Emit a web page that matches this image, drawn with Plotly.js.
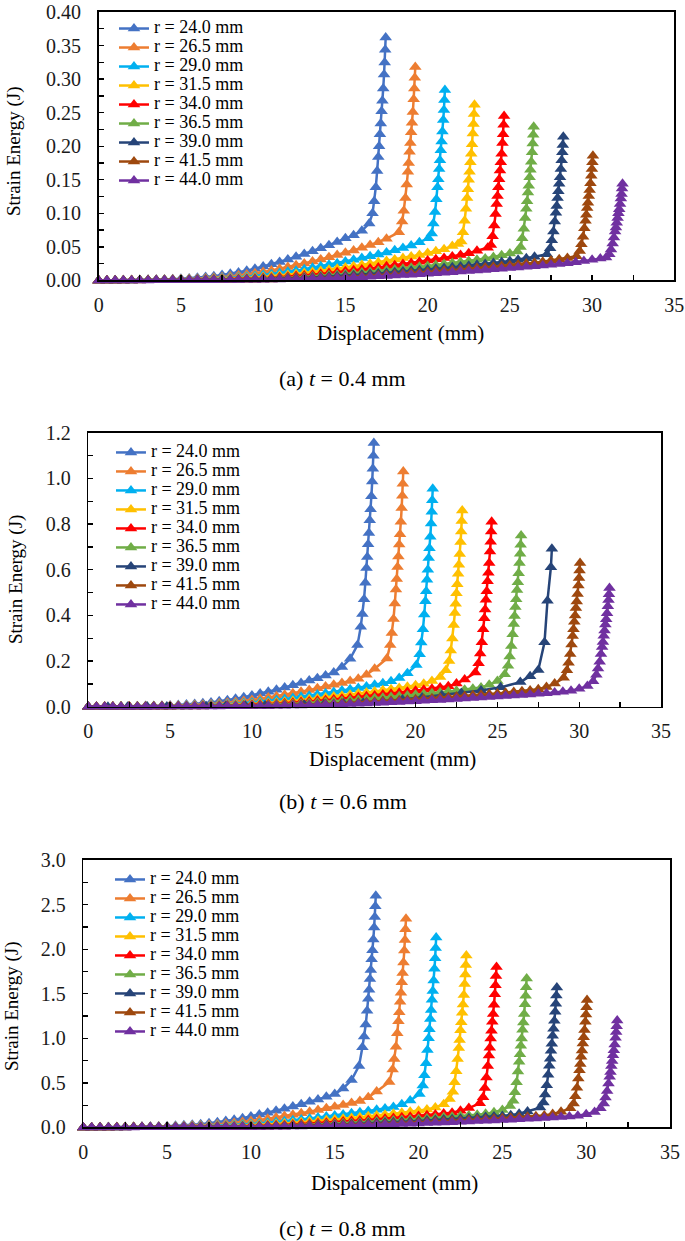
<!DOCTYPE html>
<html>
<head>
<meta charset="utf-8">
<script src="https://cdn.plot.ly/plotly-3.0.1.min.js"></script>
<style>
  html, body { margin: 0; padding: 0; background: #fff; }
  #chart { width: 685px; height: 1241px; }
</style>
</head>
<body>
<div id="chart"></div>
<script>
// radius of each curve and the Excel colours used for them
const radii = ['24.0', '26.5', '29.0', '31.5', '34.0', '36.5', '39.0', '41.5', '44.0'];
const colors = ['#4472C4', '#ED7D31', '#00B0F0', '#FFC000', '#FF0000', '#70AD47', '#264478', '#9E480E', '#7030A0'];

// displacement steps (mm) of the slow part of every curve
const stepGrid = [0, 0.5, 1, 1.5, 2, 2.5, 3, 3.5, 4, 4.5, 5, 5.5, 6, 6.5, 7, 7.5, 8, 8.5, 9, 9.5,
  10, 10.5, 11, 11.5, 12, 12.5, 13, 13.5, 14, 14.5, 15, 15.5, 16, 16.5, 17, 17.5, 18, 18.5, 19, 19.5,
  20, 20.5, 21, 21.5, 22, 22.5, 23, 23.5, 24, 24.5, 25, 25.5, 26, 26.5, 27, 27.5, 28, 28.5, 29, 29.5,
  30, 30.5, 31];

// displacement (mm) of the steep end of each curve, same for all thicknesses
const endX24 = [16.45, 16.65, 16.75, 16.85, 16.93, 17.0, 17.05, 17.1, 17.15, 17.2, 17.25, 17.3, 17.35, 17.39, 17.42, 17.45];
const endX265 = [18.25, 18.45, 18.55, 18.65, 18.73, 18.8, 18.85, 18.9, 18.95, 19.0, 19.05, 19.1, 19.15, 19.19, 19.22, 19.25];
const endX29 = [20.05, 20.25, 20.35, 20.45, 20.53, 20.6, 20.65, 20.7, 20.75, 20.8, 20.85, 20.9, 20.95, 20.99, 21.02, 21.05];
const endX315 = [21.85, 22.05, 22.15, 22.25, 22.33, 22.4, 22.45, 22.5, 22.55, 22.6, 22.65, 22.7, 22.75, 22.79, 22.82, 22.85];
const endX34 = [23.65, 23.85, 23.95, 24.05, 24.13, 24.2, 24.25, 24.3, 24.35, 24.4, 24.45, 24.5, 24.55, 24.59, 24.62, 24.65];
const endX365 = [25.45, 25.65, 25.75, 25.85, 25.93, 26.0, 26.05, 26.1, 26.15, 26.2, 26.25, 26.3, 26.35, 26.39, 26.42, 26.45];
const endX39 = [27.25, 27.45, 27.55, 27.65, 27.73, 27.8, 27.85, 27.9, 27.95, 28.0, 28.05, 28.1, 28.15, 28.19, 28.22, 28.25];
const endX415 = [29.05, 29.25, 29.35, 29.45, 29.53, 29.6, 29.65, 29.7, 29.75, 29.8, 29.85, 29.9, 29.95, 29.99, 30.02, 30.05];
const endX44 = [30.85, 31.05, 31.15, 31.25, 31.33, 31.4, 31.45, 31.5, 31.55, 31.6, 31.65, 31.7, 31.75, 31.79, 31.82, 31.85];

// (a) t = 0.4 mm, strain energy (J)
const ya24 = [0, 0.0001, 0.0002, 0.0003, 0.0005, 0.0007, 0.0009, 0.0012, 0.0015, 0.0019, 0.0024, 0.0031, 0.0039, 0.005, 0.0062, 0.008, 0.0099,
  0.012, 0.0146, 0.0175, 0.0207, 0.0242, 0.0276, 0.0314, 0.0353, 0.0395, 0.0437, 0.0481, 0.0525, 0.0575, 0.0628, 0.0673, 0.074, 0.085,
  0.1, 0.118, 0.139, 0.163, 0.184, 0.2, 0.218, 0.234, 0.252, 0.268, 0.286, 0.307, 0.325, 0.344, 0.362];
const ya265 = [0, 0.0001, 0.0001, 0.0003, 0.0004, 0.0005, 0.0007, 0.0009, 0.0011, 0.0013, 0.0016, 0.0021, 0.0026, 0.0032, 0.004, 0.0048, 0.006, 0.0074,
  0.0089, 0.0107, 0.0126, 0.0148, 0.0173, 0.02, 0.0227, 0.0254, 0.0284, 0.0314, 0.0347, 0.038, 0.0413, 0.0448, 0.0486, 0.0527, 0.0571, 0.0622, 0.0717,
  0.088, 0.104, 0.123, 0.143, 0.162, 0.175, 0.192, 0.205, 0.221, 0.235, 0.251, 0.27, 0.286, 0.302, 0.318];
const ya29 = [0, 0.0001, 0.0001, 0.0002, 0.0003, 0.0004, 0.0005, 0.0006, 0.0008, 0.001, 0.0012, 0.0014, 0.0018, 0.0021, 0.0026, 0.0032, 0.0038, 0.0046, 0.0057, 0.0068,
  0.0081, 0.0094, 0.0111, 0.0129, 0.0146, 0.0168, 0.0189, 0.0212, 0.0234, 0.0257, 0.0282, 0.0308, 0.0334, 0.036, 0.0387, 0.0418, 0.045, 0.0484, 0.0521, 0.057, 0.0628,
  0.07, 0.085, 0.102, 0.121, 0.139, 0.151, 0.166, 0.179, 0.194, 0.207, 0.222, 0.239, 0.254, 0.269, 0.284];
const ya315 = [0, 0, 0.0001, 0.0002, 0.0002, 0.0003, 0.0004, 0.0005, 0.0006, 0.0007, 0.0009, 0.001, 0.0012, 0.0015, 0.0018, 0.0021, 0.0025, 0.0031, 0.0036, 0.0044,
  0.0052, 0.0062, 0.0072, 0.0083, 0.0096, 0.011, 0.0126, 0.0141, 0.0158, 0.0175, 0.0192, 0.0211, 0.0229, 0.025, 0.027, 0.0291, 0.0311, 0.0333, 0.0357, 0.0381,
  0.0409, 0.0436, 0.0466, 0.0515, 0.0544,
  0.058, 0.072, 0.089, 0.107, 0.123, 0.136, 0.15, 0.162, 0.176, 0.189, 0.203, 0.219, 0.233, 0.248, 0.262];
const ya34 = [0, 0, 0.0001, 0.0001, 0.0002, 0.0002, 0.0003, 0.0004, 0.0005, 0.0006, 0.0007, 0.0008, 0.0009, 0.0011, 0.0013, 0.0015, 0.0019, 0.0022, 0.0026, 0.003,
  0.0036, 0.0042, 0.0049, 0.0057, 0.0066, 0.0075, 0.0086, 0.0098, 0.011, 0.0124, 0.0137, 0.0151, 0.0165, 0.018, 0.0195, 0.0211, 0.0227, 0.0244, 0.0261, 0.0278,
  0.0296, 0.0316, 0.0335, 0.0358, 0.038, 0.0406, 0.0442, 0.0489,
  0.053, 0.066, 0.082, 0.099, 0.114, 0.126, 0.139, 0.151, 0.164, 0.176, 0.189, 0.205, 0.218, 0.232, 0.245];
const ya365 = [0, 0, 0.0001, 0.0001, 0.0001, 0.0002, 0.0002, 0.0003, 0.0004, 0.0004, 0.0005, 0.0006, 0.0007, 0.0008, 0.001, 0.0011, 0.0013, 0.0016, 0.0018, 0.0021,
  0.0025, 0.0029, 0.0034, 0.004, 0.0045, 0.0052, 0.0059, 0.0067, 0.0076, 0.0085, 0.0096, 0.0106, 0.0117, 0.0128, 0.014, 0.0151, 0.0164, 0.0176, 0.0189, 0.0203,
  0.0216, 0.023, 0.0244, 0.0259, 0.0274, 0.029, 0.0308, 0.0327, 0.0348, 0.0374, 0.0401, 0.043,
  0.05, 0.063, 0.077, 0.093, 0.107, 0.118, 0.131, 0.141, 0.154, 0.165, 0.177, 0.191, 0.204, 0.217, 0.229];
const ya39 = [0, 0, 0.0001, 0.0001, 0.0001, 0.0002, 0.0002, 0.0002, 0.0003, 0.0004, 0.0004, 0.0005, 0.0006, 0.0007, 0.0007, 0.0009, 0.001, 0.0012, 0.0014, 0.0016,
  0.0018, 0.0021, 0.0024, 0.0028, 0.0033, 0.0038, 0.0043, 0.0049, 0.0054, 0.0062, 0.0069, 0.0077, 0.0084, 0.0095, 0.0104, 0.0113, 0.0123, 0.0132, 0.0143, 0.0153,
  0.0164, 0.0175, 0.0187, 0.0198, 0.0209, 0.0221, 0.0234, 0.0247, 0.0261, 0.0274, 0.0291, 0.0308, 0.033, 0.0352, 0.039,
  0.048, 0.06, 0.073, 0.088, 0.101, 0.111, 0.123, 0.133, 0.144, 0.154, 0.166, 0.179, 0.191, 0.202, 0.214];
const ya415 = [0, 0, 0, 0.0001, 0.0001, 0.0001, 0.0002, 0.0002, 0.0003, 0.0003, 0.0003, 0.0004, 0.0005, 0.0005, 0.0006, 0.0007, 0.0008, 0.0009, 0.0011, 0.0012,
  0.0014, 0.0016, 0.0018, 0.0021, 0.0024, 0.0028, 0.0032, 0.0036, 0.0041, 0.0046, 0.0051, 0.0057, 0.0064, 0.0071, 0.0078, 0.0086, 0.0094, 0.0101, 0.011, 0.0118,
  0.0127, 0.0136, 0.0145, 0.0154, 0.0164, 0.0174, 0.0184, 0.0194, 0.0204, 0.0215, 0.0227, 0.0238, 0.0251, 0.0265, 0.0278, 0.0296, 0.0316, 0.0335, 0.0361,
  0.044, 0.054, 0.065, 0.078, 0.089, 0.098, 0.108, 0.116, 0.126, 0.135, 0.145, 0.156, 0.166, 0.176, 0.186];
const ya44 = [0, 0, 0, 0.0001, 0.0001, 0.0001, 0.0001, 0.0002, 0.0002, 0.0003, 0.0003, 0.0003, 0.0004, 0.0005, 0.0005, 0.0006, 0.0007, 0.0008, 0.0009, 0.001,
  0.0011, 0.0013, 0.0015, 0.0017, 0.0019, 0.0022, 0.0025, 0.0028, 0.0032, 0.0036, 0.004, 0.0044, 0.0049, 0.0055, 0.0061, 0.0066, 0.0073, 0.008, 0.0087, 0.0094,
  0.0101, 0.0108, 0.0116, 0.0124, 0.0132, 0.014, 0.0149, 0.0157, 0.0166, 0.0175, 0.0184, 0.0193, 0.0203, 0.0213, 0.0223, 0.0235, 0.0246, 0.0258, 0.0273, 0.029,
  0.0307, 0.0327, 0.0342,
  0.039, 0.046, 0.055, 0.064, 0.073, 0.079, 0.086, 0.093, 0.1, 0.106, 0.114, 0.122, 0.129, 0.137, 0.144];

// (b) t = 0.6 mm
const yb24 = [0, 0.0002, 0.0005, 0.0008, 0.0012, 0.0017, 0.0022, 0.0028, 0.0036, 0.0046, 0.0058, 0.0074, 0.0094, 0.0118, 0.0148, 0.019, 0.0236,
  0.0286, 0.0348, 0.0416, 0.0494, 0.0576, 0.0658, 0.0748, 0.084, 0.094, 0.104, 0.115, 0.125, 0.137, 0.15, 0.174, 0.21, 0.27,
  0.35, 0.406, 0.471, 0.543, 0.608, 0.656, 0.712, 0.761, 0.817, 0.865, 0.922, 0.986, 1.042, 1.099, 1.155];
const yb265 = [0, 0.0002, 0.0003, 0.0006, 0.0009, 0.0012, 0.0016, 0.002, 0.0025, 0.0031, 0.0038, 0.0048, 0.0059, 0.0074, 0.0092, 0.0112, 0.014, 0.0172,
  0.0208, 0.0248, 0.0294, 0.0345, 0.0403, 0.0464, 0.0528, 0.0591, 0.066, 0.0729, 0.0807, 0.0883, 0.096, 0.1041, 0.113, 0.1224, 0.1401, 0.1667, 0.211,
  0.27, 0.323, 0.384, 0.452, 0.513, 0.559, 0.612, 0.658, 0.711, 0.756, 0.81, 0.87, 0.924, 0.977, 1.03];
const yb29 = [0, 0.0001, 0.0003, 0.0005, 0.0007, 0.0009, 0.0012, 0.0015, 0.0018, 0.0022, 0.0027, 0.0032, 0.0041, 0.0049, 0.006, 0.0073, 0.0088, 0.0106, 0.013, 0.0155,
  0.0185, 0.0216, 0.0255, 0.0295, 0.0335, 0.0386, 0.0434, 0.0486, 0.0538, 0.0591, 0.0648, 0.0707, 0.0767, 0.0826, 0.0889, 0.096, 0.1032, 0.1112, 0.1255, 0.1468, 0.1825,
  0.23, 0.281, 0.339, 0.404, 0.462, 0.506, 0.556, 0.6, 0.651, 0.694, 0.745, 0.803, 0.854, 0.904, 0.955];
const yb315 = [0, 0.0001, 0.0002, 0.0004, 0.0005, 0.0007, 0.0009, 0.0011, 0.0014, 0.0016, 0.002, 0.0024, 0.0029, 0.0034, 0.0041, 0.005, 0.0059, 0.007, 0.0084, 0.0102,
  0.0121, 0.0142, 0.0166, 0.0191, 0.0222, 0.0254, 0.029, 0.0327, 0.0365, 0.0404, 0.0444, 0.0486, 0.0528, 0.0576, 0.0623, 0.0671, 0.0718, 0.0768, 0.0823, 0.0878,
  0.0943, 0.1006, 0.1125, 0.1304, 0.16,
  0.2, 0.246, 0.299, 0.358, 0.411, 0.451, 0.497, 0.537, 0.583, 0.622, 0.669, 0.721, 0.768, 0.814, 0.86];
const yb34 = [0, 0.0001, 0.0002, 0.0003, 0.0004, 0.0006, 0.0007, 0.0009, 0.0011, 0.0013, 0.0016, 0.0019, 0.0022, 0.0026, 0.0031, 0.0036, 0.0044, 0.0051, 0.006, 0.0071,
  0.0083, 0.01, 0.0116, 0.0134, 0.0155, 0.0177, 0.0203, 0.0229, 0.0259, 0.029, 0.0321, 0.0355, 0.0387, 0.0422, 0.0457, 0.0494, 0.0534, 0.0573, 0.0613, 0.0652,
  0.0696, 0.0741, 0.0787, 0.084, 0.0893, 0.1014, 0.1195, 0.1497,
  0.19, 0.233, 0.283, 0.339, 0.388, 0.426, 0.469, 0.506, 0.55, 0.587, 0.63, 0.68, 0.723, 0.767, 0.81];
const yb365 = [0, 0.0001, 0.0001, 0.0002, 0.0003, 0.0005, 0.0006, 0.0007, 0.0009, 0.0011, 0.0013, 0.0015, 0.0017, 0.002, 0.0024, 0.0028, 0.0032, 0.0038, 0.0044, 0.0052,
  0.006, 0.0069, 0.0082, 0.0096, 0.011, 0.0126, 0.0143, 0.0162, 0.0184, 0.0206, 0.0232, 0.0257, 0.0284, 0.0311, 0.0339, 0.0367, 0.0397, 0.0426, 0.0459, 0.0492,
  0.0525, 0.0558, 0.0591, 0.0628, 0.0665, 0.0704, 0.0748, 0.0792, 0.0845, 0.096, 0.1132, 0.1418,
  0.18, 0.22, 0.266, 0.317, 0.362, 0.397, 0.437, 0.471, 0.511, 0.545, 0.585, 0.63, 0.67, 0.71, 0.75];
// r = 39.0 mm at t = 0.6 mm was saved with far fewer points
const xb39 = [0, 1.2, 2.4, 3.6, 4.8, 6.0, 7.2, 8.4, 9.6, 10.8, 12.0, 13.2, 14.4, 15.6, 16.8, 18.0, 19.2, 20.4, 21.6, 22.8,
  24.0, 25.2, 26.4, 27.0, 27.5, 27.88, 28.06, 28.27, 28.33];
const yb39 = [0, 0.0001, 0.0003, 0.0006, 0.001, 0.0015, 0.002, 0.003, 0.004, 0.005, 0.007, 0.009, 0.011, 0.014, 0.018, 0.024, 0.032, 0.041, 0.05, 0.06,
  0.071, 0.085, 0.108, 0.134, 0.161, 0.282, 0.464, 0.611, 0.692];
const yb415 = [0, 0.0001, 0.0001, 0.0002, 0.0003, 0.0003, 0.0004, 0.0005, 0.0006, 0.0008, 0.0009, 0.001, 0.0012, 0.0014, 0.0016, 0.0018, 0.0021, 0.0024, 0.0027, 0.0032,
  0.0037, 0.0041, 0.0048, 0.0055, 0.0062, 0.0072, 0.0083, 0.0093, 0.0106, 0.0119, 0.0131, 0.0148, 0.0165, 0.0182, 0.0201, 0.0221, 0.0241, 0.0261, 0.0284, 0.0304,
  0.0327, 0.035, 0.0372, 0.0398, 0.0423, 0.0449, 0.0474, 0.0499, 0.0525, 0.0554, 0.0584, 0.0614, 0.0647, 0.0681, 0.0715, 0.0763, 0.0863, 0.1014, 0.1265,
  0.16, 0.193, 0.231, 0.273, 0.31, 0.339, 0.372, 0.4, 0.433, 0.461, 0.494, 0.531, 0.564, 0.597, 0.63];
const yb44 = [0, 0, 0.0001, 0.0001, 0.0002, 0.0003, 0.0004, 0.0004, 0.0005, 0.0006, 0.0007, 0.0008, 0.001, 0.0011, 0.0013, 0.0014, 0.0016, 0.0019, 0.0021, 0.0024,
  0.0028, 0.0032, 0.0036, 0.0041, 0.0046, 0.0052, 0.0059, 0.0068, 0.0077, 0.0086, 0.0097, 0.0107, 0.0118, 0.0133, 0.0147, 0.0161, 0.0177, 0.0194, 0.021, 0.0227,
  0.0244, 0.0261, 0.0281, 0.03, 0.0319, 0.0339, 0.036, 0.0381, 0.0402, 0.0423, 0.0445, 0.0466, 0.0491, 0.0515, 0.054, 0.0568, 0.0596, 0.0624, 0.0661, 0.0701,
  0.0785, 0.0911, 0.112,
  0.14, 0.167, 0.197, 0.231, 0.262, 0.284, 0.311, 0.334, 0.36, 0.383, 0.41, 0.44, 0.467, 0.493, 0.52];

// (c) t = 0.8 mm
const yc24 = [0, 0.0005, 0.0012, 0.002, 0.003, 0.0043, 0.0055, 0.007, 0.009, 0.0115, 0.0145, 0.0185, 0.0235, 0.0295, 0.037, 0.0475, 0.059,
  0.0715, 0.087, 0.104, 0.124, 0.144, 0.165, 0.187, 0.21, 0.235, 0.26, 0.287, 0.313, 0.343, 0.374, 0.437, 0.532, 0.69,
  0.9, 1.019, 1.155, 1.308, 1.444, 1.546, 1.665, 1.767, 1.886, 1.988, 2.107, 2.243, 2.362, 2.481, 2.6];
const yc265 = [0, 0.0004, 0.0008, 0.0015, 0.0021, 0.003, 0.0038, 0.0048, 0.006, 0.0076, 0.0092, 0.0116, 0.0144, 0.018, 0.0224, 0.0272, 0.034, 0.0416,
  0.0504, 0.06, 0.0712, 0.0836, 0.0976, 0.1124, 0.128, 0.1432, 0.16, 0.1768, 0.1956, 0.214, 0.2328, 0.2524, 0.274, 0.2968, 0.339, 0.403, 0.509,
  0.65, 0.768, 0.904, 1.056, 1.191, 1.292, 1.411, 1.512, 1.63, 1.732, 1.85, 1.985, 2.103, 2.222, 2.34];
const yc29 = [0, 0.0003, 0.0006, 0.001, 0.0014, 0.0019, 0.0024, 0.0031, 0.0038, 0.0046, 0.0055, 0.0067, 0.0084, 0.0102, 0.0125, 0.0151, 0.0183, 0.022, 0.027, 0.0322,
  0.0383, 0.0447, 0.0528, 0.0612, 0.0693, 0.08, 0.0899, 0.1006, 0.1114, 0.1224, 0.1343, 0.1465, 0.1589, 0.1711, 0.1842, 0.1989, 0.2137, 0.2303, 0.259, 0.302, 0.374,
  0.47, 0.586, 0.719, 0.868, 1.001, 1.101, 1.217, 1.317, 1.433, 1.532, 1.649, 1.781, 1.898, 2.014, 2.13];
const yc315 = [0, 0.0002, 0.0004, 0.0007, 0.001, 0.0014, 0.0018, 0.0022, 0.0028, 0.0033, 0.004, 0.0047, 0.0057, 0.0069, 0.0082, 0.0099, 0.0118, 0.0141, 0.0168, 0.0203,
  0.0242, 0.0285, 0.0332, 0.0382, 0.0444, 0.0507, 0.058, 0.0653, 0.073, 0.0809, 0.0888, 0.0972, 0.1056, 0.1152, 0.1246, 0.1342, 0.1435, 0.1536, 0.1646, 0.1757,
  0.1886, 0.2011, 0.225, 0.261, 0.32,
  0.4, 0.507, 0.63, 0.767, 0.89, 0.981, 1.089, 1.18, 1.287, 1.379, 1.486, 1.609, 1.716, 1.823, 1.93];
const yc34 = [0, 0.0002, 0.0003, 0.0005, 0.0008, 0.001, 0.0013, 0.0017, 0.002, 0.0024, 0.0029, 0.0034, 0.004, 0.0048, 0.0057, 0.0067, 0.0081, 0.0094, 0.0111, 0.0132,
  0.0154, 0.0185, 0.0214, 0.0248, 0.0286, 0.0327, 0.0376, 0.0424, 0.048, 0.0537, 0.0595, 0.0658, 0.0717, 0.0782, 0.0847, 0.0916, 0.0989, 0.1062, 0.1135, 0.1208,
  0.1288, 0.1372, 0.1458, 0.1556, 0.1654, 0.1864, 0.2178, 0.2702,
  0.34, 0.442, 0.559, 0.69, 0.807, 0.895, 0.997, 1.085, 1.187, 1.274, 1.377, 1.493, 1.596, 1.698, 1.8];
const yc365 = [0, 0.0001, 0.0003, 0.0004, 0.0006, 0.0008, 0.001, 0.0013, 0.0016, 0.0019, 0.0023, 0.0026, 0.0031, 0.0036, 0.0043, 0.005, 0.0058, 0.0069, 0.008, 0.0094,
  0.0109, 0.0125, 0.0148, 0.0173, 0.0198, 0.0228, 0.0258, 0.0293, 0.0333, 0.0372, 0.0418, 0.0464, 0.0512, 0.0561, 0.0611, 0.0663, 0.0715, 0.0768, 0.0828, 0.0887,
  0.0947, 0.1006, 0.1066, 0.1132, 0.12, 0.1271, 0.1349, 0.143, 0.1524, 0.1701, 0.1967, 0.241,
  0.3, 0.396, 0.506, 0.629, 0.738, 0.821, 0.917, 0.999, 1.095, 1.177, 1.273, 1.382, 1.478, 1.574, 1.67];
const yc39 = [0, 0.0001, 0.0002, 0.0004, 0.0005, 0.0007, 0.0009, 0.0011, 0.0013, 0.0016, 0.0019, 0.0022, 0.0025, 0.0029, 0.0033, 0.0039, 0.0045, 0.0052, 0.0061, 0.0071,
  0.0081, 0.0095, 0.0109, 0.0125, 0.0145, 0.0167, 0.0191, 0.0216, 0.0242, 0.0274, 0.0307, 0.0341, 0.0374, 0.042, 0.046, 0.0501, 0.0546, 0.0588, 0.0634, 0.0679,
  0.0727, 0.0778, 0.0829, 0.088, 0.0931, 0.0982, 0.104, 0.1099, 0.1159, 0.1218, 0.1294, 0.1367, 0.1539, 0.1797, 0.2227,
  0.28, 0.37, 0.474, 0.59, 0.693, 0.77, 0.861, 0.938, 1.028, 1.106, 1.196, 1.299, 1.389, 1.48, 1.57];
const yc415 = [0, 0.0001, 0.0002, 0.0003, 0.0005, 0.0006, 0.0008, 0.0009, 0.0011, 0.0014, 0.0016, 0.0018, 0.0021, 0.0024, 0.0028, 0.0031, 0.0037, 0.0042, 0.0048, 0.0056,
  0.0065, 0.0073, 0.0084, 0.0097, 0.0109, 0.0127, 0.0146, 0.0164, 0.0186, 0.021, 0.0231, 0.0261, 0.0291, 0.0321, 0.0356, 0.0391, 0.0425, 0.0461, 0.0501, 0.0537,
  0.0578, 0.0617, 0.0657, 0.0702, 0.0747, 0.0792, 0.0837, 0.0881, 0.0927, 0.0978, 0.1031, 0.1083, 0.1142, 0.1202, 0.1262, 0.1347, 0.151, 0.1753, 0.2159,
  0.27, 0.351, 0.444, 0.548, 0.641, 0.711, 0.792, 0.862, 0.943, 1.012, 1.094, 1.186, 1.268, 1.349, 1.43];
const yc44 = [0, 0.0001, 0.0002, 0.0003, 0.0004, 0.0005, 0.0007, 0.0008, 0.001, 0.0012, 0.0014, 0.0016, 0.0018, 0.002, 0.0024, 0.0027, 0.003, 0.0035, 0.0039, 0.0044,
  0.0052, 0.0059, 0.0067, 0.0076, 0.0087, 0.0097, 0.0111, 0.0127, 0.0143, 0.0161, 0.018, 0.02, 0.0221, 0.0247, 0.0274, 0.03, 0.0331, 0.0361, 0.0392, 0.0424,
  0.0456, 0.0488, 0.0525, 0.056, 0.0595, 0.0632, 0.0672, 0.0711, 0.0751, 0.079, 0.083, 0.087, 0.0916, 0.0962, 0.1008, 0.106, 0.1112, 0.1166, 0.1234, 0.1309,
  0.1476, 0.1726, 0.2144,
  0.27, 0.335, 0.41, 0.493, 0.568, 0.623, 0.689, 0.744, 0.809, 0.865, 0.93, 1.005, 1.07, 1.135, 1.2];

const serif = 'Liberation Serif';
const endX = [endX24, endX265, endX29, endX315, endX34, endX365, endX39, endX415, endX44];

const panels = [
  { ys: [ya24, ya265, ya29, ya315, ya34, ya365, ya39, ya415, ya44], xa: 'x', ya: 'y', legend: 'legend' },
  { ys: [yb24, yb265, yb29, yb315, yb34, yb365, yb39, yb415, yb44], xa: 'x2', ya: 'y2', legend: 'legend2' },
  { ys: [yc24, yc265, yc29, yc315, yc34, yc365, yc39, yc415, yc44], xa: 'x3', ya: 'y3', legend: 'legend3' },
];

// slow part sits on the 0.5 mm grid, the steep end has its own x values
function xFor(i, y) {
  const n = y.length - endX[i].length;
  return stepGrid.slice(0, n).concat(endX[i]);
}

const traces = [];
panels.forEach((p, k) => {
  p.ys.forEach((y, i) => {
    const x = (k === 1 && i === 6) ? xb39 : xFor(i, y);
    traces.push({
      x: x, y: y,
      xaxis: p.xa, yaxis: p.ya, legend: p.legend,
      type: 'scatter', mode: 'lines+markers',
      name: '<span style="font-size:18px">r = ' + radii[i] + ' mm</span>',
      line: { color: colors[i], width: 2.5 },
      marker: { symbol: 'triangle-up', size: 11, color: colors[i] },
      cliponaxis: false,
    });
  });
});

function xAxis(domain, anchor) {
  return {
    domain: domain, anchor: anchor, range: [0, 35], tick0: 0, dtick: 5,
    ticks: 'inside', ticklen: 5, tickwidth: 1.3, tickcolor: '#000',
    minor: { dtick: 2.5, ticks: 'inside', ticklen: 5, tickwidth: 1.3, tickcolor: '#000' },
    showline: true, linewidth: 1.6, linecolor: '#000', mirror: true,
    showgrid: false, zeroline: false,
    tickfont: { family: serif, size: 20, color: '#1a1a1a' },
    ticklabelstandoff: 6, ticklabeloverflow: 'allow',
  };
}

function yAxis(domain, anchor, top, step, fmt) {
  return {
    domain: domain, anchor: anchor, range: [0, top], tick0: 0, dtick: step, tickformat: fmt,
    ticks: 'inside', ticklen: 5, tickwidth: 1.3, tickcolor: '#000',
    minor: { dtick: step / 2, ticks: 'inside', ticklen: 5, tickwidth: 1.3, tickcolor: '#000' },
    showline: true, linewidth: 1.6, linecolor: '#000', mirror: true,
    showgrid: false, zeroline: false,
    tickfont: { family: serif, size: 20, color: '#1a1a1a' },
    ticklabelstandoff: 12, ticklabeloverflow: 'allow',
  };
}

function legendAt(x, y) {
  return {
    x: x, y: y, xanchor: 'left', yanchor: 'top',
    bgcolor: 'rgba(0,0,0,0)', borderwidth: 0, tracegroupgap: 0,
    font: { family: serif, size: 12, color: '#000' },
  };
}

function note(text, x, y, size, angle) {
  return {
    text: text, x: x, y: y, xref: 'paper', yref: 'paper',
    xanchor: 'center', yanchor: 'middle', showarrow: false,
    textangle: angle || 0,
    font: { family: serif, size: size, color: '#000' },
  };
}

const layout = {
  width: 685, height: 1241,
  margin: { l: 0, r: 0, t: 0, b: 0 },
  paper_bgcolor: '#fff', plot_bgcolor: '#fff',
  font: { family: serif, color: '#000' },
  showlegend: true,
  xaxis: xAxis([0.1441, 0.9844], 'y'),
  yaxis: yAxis([0.7740, 0.9903], 'x', 0.40001, 0.05, '.2f'),
  xaxis2: xAxis([0.1289, 0.9650], 'y2'),
  yaxis2: yAxis([0.4305, 0.6513], 'x2', 1.20001, 0.2, '.1f'),
  xaxis3: xAxis([0.1216, 0.9781], 'y3'),
  yaxis3: yAxis([0.0915, 0.3070], 'x3', 3.0001, 0.5, '.1f'),
  legend: legendAt(0.1664, 0.9887),
  legend2: legendAt(0.1620, 0.6471),
  legend3: legendAt(0.1606, 0.3030),
  annotations: [
    note('Strain Energy (J)', 0.0204, 0.8783, 19, -90),
    note('Displacement (mm)', 0.584, 0.7317, 21),
    note('(a) <i>t</i> = 0.4 mm', 0.5, 0.6954, 22),
    note('Strain Energy (J)', 0.0234, 0.5326, 19, -90),
    note('Displacement (mm)', 0.573, 0.3884, 21),
    note('(b) <i>t</i> = 0.6 mm', 0.5, 0.3540, 22),
    note('Strain Energy (J)', 0.0175, 0.1894, 19, -90),
    note('Dispalcement (mm)', 0.5766, 0.0465, 21),
    note('(c) <i>t</i> = 0.8 mm', 0.5, 0.0102, 22),
  ],
};

Plotly.newPlot('chart', traces, layout, { displayModeBar: false, staticPlot: true });
</script>
</body>
</html>
